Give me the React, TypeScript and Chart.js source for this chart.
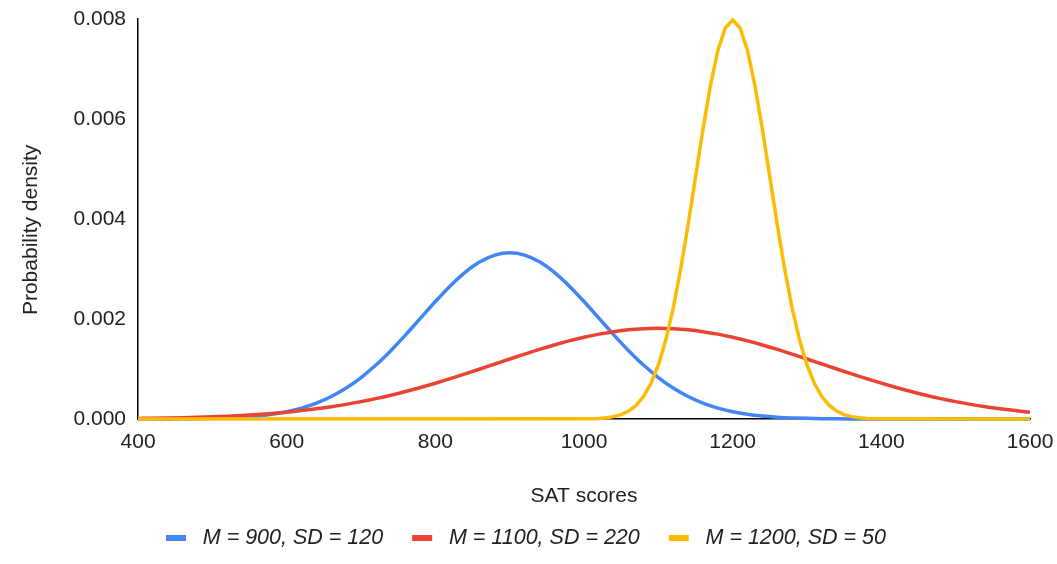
import React, { useEffect, useRef } from "react";
import { Chart, registerables } from "chart.js";

Chart.register(...registerables);

// SAT scores (x) sampled every 20 points for the wide curves
const scores = [
  400, 420, 440, 460, 480, 500, 520, 540, 560, 580, 600, 620, 640, 660, 680, 700,
  720, 740, 760, 780, 800, 820, 840, 860, 880, 900, 920, 940, 960, 980, 1000,
  1020, 1040, 1060, 1080, 1100, 1120, 1140, 1160, 1180, 1200, 1220, 1240, 1260,
  1280, 1300, 1320, 1340, 1360, 1380, 1400, 1420, 1440, 1460, 1480, 1500, 1520,
  1540, 1560, 1580, 1600,
];

// M = 900, SD = 120
const densityA = [
  0.0000006, 0.0000011, 0.0000021, 0.000004, 0.0000073, 0.0000129, 0.0000221,
  0.0000369, 0.00006, 0.000095, 0.000146, 0.000218, 0.000318, 0.00045, 0.000619,
  0.000829, 0.001079, 0.001367, 0.001683, 0.002016, 0.002349, 0.002662, 0.002934,
  0.003145, 0.003279, 0.003325, 0.003279, 0.003145, 0.002934, 0.002662, 0.002349,
  0.002016, 0.001683, 0.001367, 0.001079, 0.000829, 0.000619, 0.00045, 0.000318,
  0.000218, 0.000146, 0.000095, 0.00006, 0.0000369, 0.0000221, 0.0000129,
  0.0000073, 0.000004, 0.0000021, 0.0000011, 0.0000006, 0.0000003, 0.0000001, 0,
  0, 0, 0, 0, 0, 0, 0,
];

// M = 1100, SD = 220
const densityB = [
  0.0000115, 0.0000153, 0.0000201, 0.0000264, 0.0000342, 0.000044, 0.0000561,
  0.000071, 0.0000892, 0.000111, 0.000137, 0.000168, 0.000204, 0.000245, 0.000293,
  0.000347, 0.000408, 0.000475, 0.000549, 0.00063, 0.000716, 0.000807, 0.000902,
  0.001, 0.0011, 0.0012, 0.001297, 0.001392, 0.001481, 0.001563, 0.001635,
  0.001697, 0.001747, 0.001784, 0.001806, 0.001813, 0.001806, 0.001784, 0.001747,
  0.001697, 0.001635, 0.001563, 0.001481, 0.001392, 0.001297, 0.0012, 0.0011,
  0.001, 0.000902, 0.000807, 0.000716, 0.00063, 0.000549, 0.000475, 0.000408,
  0.000347, 0.000293, 0.000245, 0.000204, 0.000168, 0.000137,
];

// SAT scores sampled every 10 points for the narrow curve
const scoresNarrow = [
  400, 1000, 1010, 1020, 1030, 1040, 1050, 1060, 1070, 1080, 1090, 1100, 1110,
  1120, 1130, 1140, 1150, 1160, 1170, 1180, 1190, 1200, 1210, 1220, 1230, 1240,
  1250, 1260, 1270, 1280, 1290, 1300, 1310, 1320, 1330, 1340, 1350, 1360, 1370,
  1380, 1390, 1400, 1600,
];

// M = 1200, SD = 50
const densityC = [
  0, 0.0000027, 0.0000058, 0.0000123, 0.0000246, 0.0000477, 0.0000886, 0.000158,
  0.000272, 0.000448, 0.000709, 0.00108, 0.001579, 0.002218, 0.002995, 0.003884,
  0.004839, 0.005794, 0.006664, 0.007365, 0.007821, 0.007979, 0.007821, 0.007365,
  0.006664, 0.005794, 0.004839, 0.003884, 0.002995, 0.002218, 0.001579, 0.00108,
  0.000709, 0.000448, 0.000272, 0.000158, 0.0000886, 0.0000477, 0.0000246,
  0.0000123, 0.0000058, 0.0000027, 0,
];

const seriesLabels = ["M = 900, SD = 120", "M = 1100, SD = 220", "M = 1200, SD = 50"];
const seriesColors = ["#4285F4", "#EA4335", "#FBBC04"];

const xTitle = "SAT scores";
const yTitle = "Probability density";

export default function App() {
  const canvasRef = useRef<HTMLCanvasElement | null>(null);

  useEffect(() => {
    if (!canvasRef.current) return;
    const family = "'Liberation Sans', Arial, Helvetica, sans-serif";
    Chart.defaults.font.family = family;
    Chart.defaults.color = "#222";
    const FS = 21;

    const toPts = (xs: number[], ys: number[]) => xs.map((x, i) => ({ x, y: ys[i] }));
    const lineDs = (i: number, xs: number[], ys: number[], smooth: boolean) => ({
      label: seriesLabels[i],
      data: toPts(xs, ys),
      borderColor: seriesColors[i],
      backgroundColor: seriesColors[i],
      borderWidth: 3.5,
      pointRadius: 0,
      tension: 0,
      cubicInterpolationMode: smooth ? "monotone" : "default",
      clip: false as any,
      order: 3 - i,
    });

    const chart = new Chart(canvasRef.current, {
      type: "line",
      data: {
        datasets: [
          lineDs(0, scores, densityA, true),
          lineDs(1, scores, densityB, true),
          lineDs(2, scoresNarrow, densityC, false),
        ] as any,
      },
      options: {
        animation: false,
        responsive: true,
        maintainAspectRatio: false,
        layout: { padding: { top: 19, right: 27, bottom: 5.25, left: 22 } },
        plugins: {
          tooltip: { enabled: false },
          legend: {
            position: "bottom",
            labels: {
              color: "#222",
              font: { size: 21.5, style: "italic" },
              boxWidth: 20,
              boxHeight: 6,
              padding: 29,
              generateLabels: (c: any) =>
                c.data.datasets.map((ds: any, i: number) => ({
                  text: " " + ds.label,
                  fillStyle: seriesColors[i],
                  strokeStyle: seriesColors[i],
                  lineWidth: 0,
                  fontColor: "#222",
                  hidden: false,
                  datasetIndex: i,
                })),
            },
          },
        },
        scales: {
          x: {
            type: "linear",
            min: 400,
            max: 1600,
            afterFit: (s: any) => {
              s.paddingRight = 0;
            },
            ticks: {
              stepSize: 200,
              padding: 11,
              color: "#222",
              font: { size: FS },
              maxRotation: 0,
              autoSkip: false,
              callback: (v: any) => String(v),
            },
            grid: { display: false, drawTicks: false },
            border: { display: true, color: "#000", width: 1.5 },
            title: {
              display: true,
              text: xTitle,
              color: "#222",
              font: { size: FS },
              padding: { top: 17.2, bottom: -10.35 },
            },
          },
          y: {
            type: "linear",
            min: 0,
            max: 0.008,
            afterFit: (s: any) => {
              s.paddingTop = 0;
            },
            ticks: {
              stepSize: 0.002,
              padding: 12,
              color: "#222",
              font: { size: FS },
              callback: (v: any) => Number(v).toFixed(3),
            },
            grid: { display: false, drawTicks: false },
            border: { display: true, color: "#000", width: 1.5 },
            title: {
              display: true,
              text: yTitle + "\u00a0\u00a0\u00a0\u2009",
              color: "#222",
              font: { size: FS },
              padding: { top: -3, bottom: 17.3 },
            },
          },
        },
      },
    });
    return () => chart.destroy();
  }, []);

  return (
    <div
      style={{
        position: "fixed",
        left: 0,
        top: 0,
        width: 1057,
        height: 564,
        background: "#fff",
      }}
    >
      <canvas ref={canvasRef} />
    </div>
  );
}
